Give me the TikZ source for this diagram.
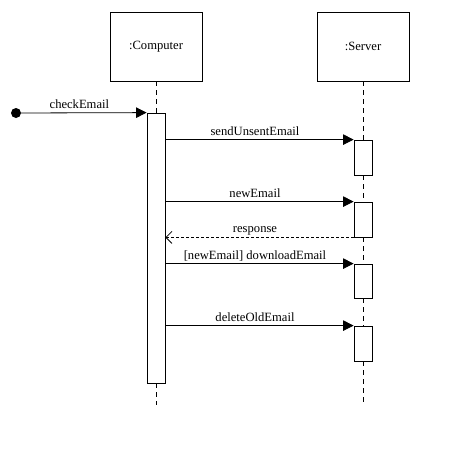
\documentclass[tikz,border=0pt]{standalone}
\usepackage{fontspec}
\setmainfont{Liberation Serif}
\usetikzlibrary{arrows.meta}

\begin{document}
\begin{tikzpicture}[x=1pt, y=-1pt,
        every node/.style={font=\fontsize{12.6}{15}\selectfont},
        obj/.style={draw, line width=0.8pt, minimum width=92pt, minimum height=69pt},
        bar/.style={draw, fill=white, line width=0.8pt, minimum width=18pt, inner sep=0pt},
        life/.style={line width=1pt, dash pattern=on 4.5pt off 4.5pt},
        msg/.style={line width=0.8pt, -{Triangle[length=10.5pt, width=10.5pt]}},
        reply/.style={line width=0.8pt, dash pattern=on 3pt off 2pt, -{Straight Barb[length=6pt, width=12pt]}},
        msgtext/.style={midway, anchor=base, yshift=4.5pt, xshift=-4.5pt, inner sep=0pt}]
        \useasboundingbox (0,0) rectangle (474,451);

        % Objects
        \node[obj] (comp) at (156,46.5) {:Computer};
        \node[obj] (serv) at (363,46.5) {:Server};

        % Activation bars
        \node[bar, minimum height=270pt] (actC) at (156,248) {};
        \node[bar, minimum height=35pt] (act1) at (363,157.5) {};
        \node[bar, minimum height=35pt] (act2) at (363,219.5) {};
        \node[bar, minimum height=34pt] (act3) at (363,281) {};
        \node[bar, minimum height=35pt] (act4) at (363,343.5) {};

        \coordinate (compEnd) at (156,405);
        \coordinate (servEnd) at (363,405);

        % Lifelines
        \draw[life] (comp.south) -- (actC.north);
        \draw[life] (actC.south) -- (compEnd);
        \draw[life] (serv.south) -- (act1.north);
        \draw[life] (act1.south) -- (act2.north);
        \draw[life] (act2.south) -- (act3.north);
        \draw[life] (act3.south) -- (act4.north);
        \draw[life] (act4.south) -- (servEnd);

        % Start point
        \node[circle, fill, inner sep=0pt, minimum size=10pt] (start) at (16,113) {};

        % Messages
        \draw[msg] (start) -- (actC.north west) node[msgtext] {checkEmail};
        \draw[msg] (actC.east |- act1.north) -- (act1.north west) node[msgtext] {sendUnsentEmail};
        \draw[msg] (actC.east |- act2.north) -- (act2.north west) node[msgtext] {newEmail};
        \draw[reply] (act2.south west) -- (actC.east |- act2.south) node[msgtext] {response};
        \draw[msg] (actC.east |- act3.north) -- (act3.north west) node[msgtext] {[newEmail] downloadEmail};
        \draw[msg] (actC.east |- act4.north) -- (act4.north west) node[msgtext] {deleteOldEmail};
    \end{tikzpicture}
\end{document}
